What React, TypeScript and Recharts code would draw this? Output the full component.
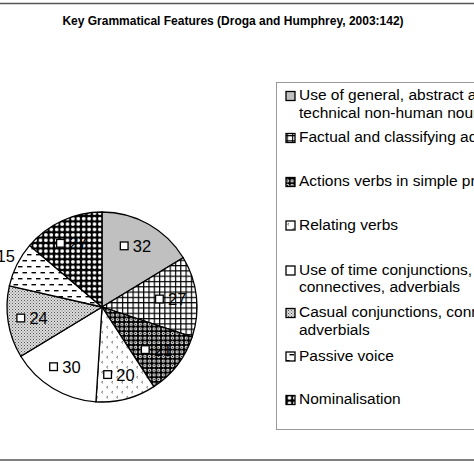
import React from 'react';
import { PieChart, Pie, Cell, Legend } from 'recharts';

const categories = [
  'Use of general, abstract and technical non-human nouns',
  'Factual and classifying adjectives',
  'Actions verbs in simple present tense',
  'Relating verbs',
  'Use of time conjunctions, connectives, adverbials',
  'Casual conjunctions, connectives, adverbials',
  'Passive voice',
  'Nominalisation',
];
const values = [32, 27, 21, 20, 30, 24, 15, 27];
const legendLines = [
  ['Use of general, abstract and', 'technical non-human nouns'],
  ['Factual and classifying adjectives'],
  ['Actions verbs in simple present tense'],
  ['Relating verbs'],
  ['Use of time conjunctions,', 'connectives, adverbials'],
  ['Casual conjunctions, connectives,', 'adverbials'],
  ['Passive voice'],
  ['Nominalisation'],
];
const fills = [
  '#c0c0c0',
  'url(#pGrid)',
  'url(#pRings)',
  'url(#pChev)',
  '#ffffff',
  'url(#pStipple)',
  'url(#pDash)',
  'url(#pDiamond)',
];
const legendBaselines = [[18, 35.5], [60], [104], [147.5], [192.5, 210], [235, 253], [278.5], [322]];

const data = categories.map((name, i) => ({ name, value: values[i] }));
const FONT = '"Liberation Sans", Arial, sans-serif';
const RAD = Math.PI / 180;

const renderLabel = (props: any) => {
  const { cx, cy, midAngle, value } = props;
  const r = value < 16 ? 114 : 70;
  const px = cx + r * Math.cos(-midAngle * RAD);
  const py = cy + r * Math.sin(-midAngle * RAD);
  const left = px - 16;
  return (
    <g>
      <rect x={left} y={py - 4} width={7.7} height={7.7} fill="#fff" stroke="#000" strokeWidth={1.3} />
      <text x={left + 12.5} y={py + 5.8} fontSize={16.5} fontFamily={FONT} fill="#000">
        {value}
      </text>
    </g>
  );
};

const renderLegend = () => (
  <svg width={260} height={348} style={{ display: 'block' }}>
    <rect x={0.5} y={0.5} width={270} height={347} fill="#fff" stroke="#999" strokeWidth={1} />
    {categories.map((c, i) => (
      <g key={c}>
        <rect
          x={10}
          y={legendBaselines[i][0] - 8.5}
          width={9}
          height={9}
          fill={fills[i]}
          stroke="#000"
          strokeWidth={1.3}
        />
        {legendLines[i].map((line, j) => (
          <text key={j} x={23} y={legendBaselines[i][j]} fontSize={15.5} fontFamily={FONT} fill="#000">
            {line}
          </text>
        ))}
      </g>
    ))}
  </svg>
);

export default function App() {
  return (
    <div style={{ position: 'absolute', left: 0, top: 0, width: 474, height: 474, overflow: 'hidden', background: '#fff' }}>
      <svg width={0} height={0} style={{ position: 'absolute' }}>
        <defs>
          <pattern id="pGrid" patternUnits="userSpaceOnUse" width={5.3} height={5.3}>
            <rect width={5.3} height={5.3} fill="#fff" />
            <rect x={0} y={0} width={1.2} height={5.3} fill="#000" />
            <rect x={0} y={0} width={5.3} height={1.2} fill="#000" />
          </pattern>
          <pattern id="pRings" patternUnits="userSpaceOnUse" width={4.6} height={4.6}>
            <rect width={4.6} height={4.6} fill="#000" />
            <circle cx={2.3} cy={2.3} r={1.6} fill="#fff" />
            <circle cx={2.3} cy={2.3} r={0.7} fill="#000" />
          </pattern>
          <pattern id="pChev" patternUnits="userSpaceOnUse" width={10} height={10}>
            <rect width={10} height={10} fill="#fff" />
            <path d="M3 1 L1.5 2.2 L3 3.4" stroke="#666" strokeWidth={0.9} fill="none" />
            <path d="M8 6 L6.5 7.2 L8 8.4" stroke="#666" strokeWidth={0.9} fill="none" />
          </pattern>
          <pattern id="pStipple" patternUnits="userSpaceOnUse" width={3} height={3}>
            <rect width={3} height={3} fill="#dcdcdc" />
            <rect x={0} y={0} width={1} height={1} fill="#555" />
            <rect x={1.5} y={1.5} width={1} height={1} fill="#777" />
          </pattern>
          <pattern id="pDash" patternUnits="userSpaceOnUse" width={9} height={12}>
            <rect width={9} height={12} fill="#fff" />
            <rect x={0} y={2} width={4.5} height={1.4} fill="#000" />
            <rect x={4.5} y={8} width={4.5} height={1.4} fill="#000" />
          </pattern>
          <pattern id="pDiamond" patternUnits="userSpaceOnUse" width={5.4} height={5.4}>
            <rect width={5.4} height={5.4} fill="#000" />
            <circle cx={2.7} cy={2.7} r={1.9} fill="#fff" />
          </pattern>
        </defs>
      </svg>
      <div style={{ position: 'absolute', left: 0, top: 0 }}>
        <PieChart width={474} height={474} margin={{ top: 0, right: 0, bottom: 0, left: 0 }}>
          <Pie
            data={data}
            dataKey="value"
            nameKey="name"
            cx={102}
            cy={307}
            outerRadius={95}
            startAngle={90}
            endAngle={-270}
            stroke="#000"
            strokeWidth={1.3}
            label={renderLabel}
            labelLine={false}
            isAnimationActive={false}
          >
            {data.map((d, i) => (
              <Cell key={d.name} fill={fills[i]} />
            ))}
          </Pie>
          <Legend
            layout="horizontal"
            verticalAlign="middle"
            align="center"
            content={renderLegend}
            wrapperStyle={{ left: 276, top: 82, width: 260, height: 348 }}
          />
        </PieChart>
      </div>
      <svg width={474} height={474} style={{ position: 'absolute', left: 0, top: 0, pointerEvents: 'none' }}>
        <line x1={0} y1={3.5} x2={474} y2={3.5} stroke="#555" strokeWidth={1.4} />
        <line x1={0} y1={460} x2={474} y2={460} stroke="#555" strokeWidth={1.4} />
        <text x={233} y={25} textAnchor="middle" fontSize={12} fontWeight="bold" fontFamily={FONT} fill="#000">
          Key Grammatical Features (Droga and Humphrey, 2003:142)
        </text>
      </svg>
    </div>
  );
}
